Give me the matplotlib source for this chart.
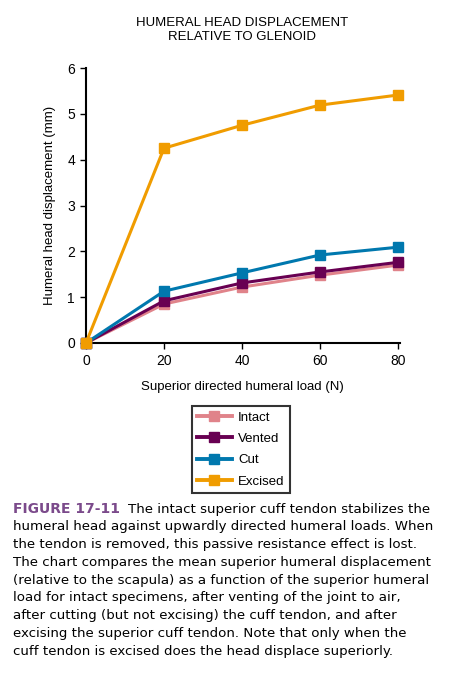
import matplotlib.pyplot as plt
from matplotlib.lines import Line2D

# data
loads = [0, 20, 40, 60, 80]
intact = [0, 0.85, 1.22, 1.48, 1.70]
vented = [0, 0.92, 1.31, 1.55, 1.76]
cut = [0, 1.13, 1.53, 1.92, 2.09]
excised = [0, 4.25, 4.75, 5.19, 5.41]
series_names = ['Intact', 'Vented', 'Cut', 'Excised']
series_colors = ['#E0838A', '#680052', '#0078AE', '#F09C00']

caption_lines = [
    'humeral head against upwardly directed humeral loads. When',
    'the tendon is removed, this passive resistance effect is lost.',
    'The chart compares the mean superior humeral displacement',
    '(relative to the scapula) as a function of the superior humeral',
    'load for intact specimens, after venting of the joint to air,',
    'after cutting (but not excising) the cuff tendon, and after',
    'excising the superior cuff tendon. Note that only when the',
    'cuff tendon is excised does the head displace superiorly.',
]


def main() -> None:
    plt.rcParams['font.family'] = ['Liberation Sans', 'DejaVu Sans']
    fig = plt.figure(figsize=(4.66, 6.75), dpi=100)
    W, H = 466, 675
    ax = fig.add_axes([86 / W, 1 - 343 / H, (399.5 - 86) / W, (343 - 68) / H])

    handles = []
    for vals, name, col in zip([intact, vented, cut, excised], series_names, series_colors):
        ax.plot(loads, vals, color=col, lw=2.2, marker='s', ms=7, clip_on=False, zorder=3)
        handles.append(Line2D([], [], color=col, lw=2.8, marker='s', ms=6.5))

    ax.set_xlim(0, 80.4)
    ax.set_ylim(0, 6)
    ax.set_xticks(loads)
    ax.set_yticks(range(7))
    for s in ['top', 'right']:
        ax.spines[s].set_visible(False)
    for s in ['left', 'bottom']:
        ax.spines[s].set_linewidth(1.5)
    ax.tick_params(direction='out', length=4, width=1, labelsize=10, pad=4)
    ax.set_xlabel('Superior directed humeral load (N)', fontsize=9.5, labelpad=9)
    ax.set_ylabel('Humeral head displacement (mm)', fontsize=9.5, labelpad=8)

    fig.text(242 / W, 1 - 30 / H, 'HUMERAL HEAD DISPLACEMENT\nRELATIVE TO GLENOID',
             ha='center', va='center', fontsize=9.5, linespacing=1.2)

    leg = fig.legend(handles, series_names, loc='upper left',
                     bbox_to_anchor=(192 / W, 1 - 406 / H), fontsize=9.5,
                     frameon=True, fancybox=False, edgecolor='black',
                     handlelength=2.6, handletextpad=0.5, labelspacing=0.7,
                     borderpad=0.4, borderaxespad=0)
    leg.get_frame().set_linewidth(1.5)

    # caption below the chart
    cap_size = 9.6
    y0 = 1 - 509 / H
    fig_lbl = fig.text(13 / W, y0, 'FIGURE 17-11', color='#7B4A8B', fontweight='bold',
                       fontsize=cap_size + 0.4, va='center', family=['DejaVu Sans'])
    fig.canvas.draw()
    bb = fig_lbl.get_window_extent()
    fig.text((bb.x1 + 8) / W, y0, 'The intact superior cuff tendon stabilizes the',
             fontsize=cap_size, va='center', family=['DejaVu Sans'])
    for i, line in enumerate(caption_lines):
        fig.text(13 / W, y0 - (i + 1) * 17.8 / H, line, fontsize=cap_size,
                 va='center', family=['DejaVu Sans'])

    fig.savefig('out.png', dpi=100)


if __name__ == "__main__":
    main()
